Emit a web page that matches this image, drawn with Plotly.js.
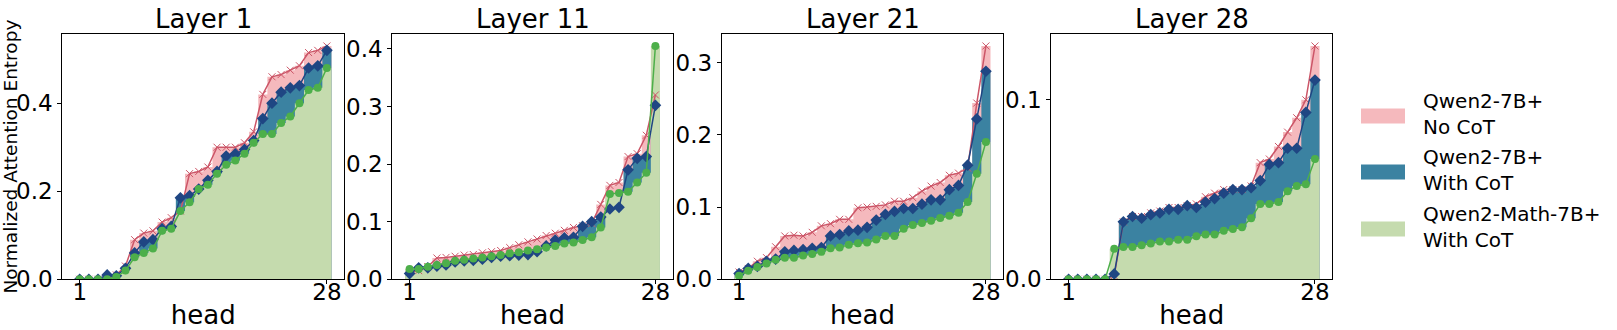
<!DOCTYPE html>
<html>
<head>
<meta charset="utf-8">
<script src="https://cdn.plot.ly/plotly-3.0.1.min.js"></script>
<style>html,body{margin:0;padding:0;background:#fff;}#chart{width:1617px;height:330px;}</style>
</head>
<body>
<div id="chart"></div>
<script>
// ---- data ----
const heads = Array.from({length: 28}, (_, i) => i + 1);
const layerNames = ["Layer 1", "Layer 11", "Layer 21", "Layer 28"];
const seriesNames = ["Qwen2-7B+<br>No CoT", "Qwen2-7B+<br>With CoT", "Qwen2-Math-7B+<br>With CoT"];
const yTitle = "Normalized Attention Entropy";
const xTitle = "head";

// Layer 1
const l1_noCot   = [0,0,0,0,0.01,0.03,0.09,0.105,0.11,0.13,0.14,0.155,0.24,0.245,0.255,0.3,0.3,0.3,0.31,0.335,0.42,0.46,0.465,0.475,0.485,0.515,0.52,0.53];
const l1_withCot = [0,0,0,0.01,0.008,0.025,0.06,0.085,0.09,0.115,0.12,0.185,0.19,0.205,0.225,0.245,0.28,0.285,0.295,0.315,0.365,0.4,0.425,0.435,0.44,0.48,0.485,0.52];
const l1_math    = [0,0,0,0,0.005,0.02,0.05,0.06,0.07,0.11,0.115,0.155,0.175,0.205,0.215,0.24,0.26,0.27,0.285,0.31,0.33,0.33,0.355,0.37,0.4,0.43,0.435,0.48];

// Layer 11
const l11_noCot   = [0.012,0.015,0.022,0.037,0.038,0.04,0.042,0.043,0.046,0.048,0.05,0.055,0.06,0.065,0.07,0.076,0.08,0.085,0.09,0.093,0.097,0.13,0.163,0.168,0.213,0.218,0.25,0.32];
const l11_withCot = [0.01,0.02,0.02,0.023,0.025,0.03,0.032,0.033,0.035,0.038,0.04,0.041,0.042,0.043,0.048,0.058,0.068,0.072,0.073,0.092,0.1,0.108,0.122,0.125,0.19,0.21,0.213,0.302];
const l11_math    = [0.018,0.018,0.022,0.025,0.028,0.032,0.034,0.036,0.038,0.04,0.042,0.045,0.047,0.05,0.052,0.055,0.058,0.062,0.064,0.068,0.073,0.09,0.148,0.15,0.152,0.168,0.185,0.405];

// Layer 21
const l21_noCot   = [0.01,0.015,0.025,0.03,0.045,0.06,0.061,0.06,0.065,0.074,0.077,0.083,0.083,0.099,0.1,0.101,0.103,0.108,0.108,0.113,0.122,0.129,0.134,0.144,0.147,0.154,0.244,0.323];
const l21_withCot = [0.008,0.015,0.018,0.025,0.028,0.038,0.04,0.041,0.043,0.044,0.06,0.062,0.067,0.068,0.072,0.082,0.09,0.094,0.098,0.098,0.104,0.11,0.11,0.124,0.13,0.158,0.222,0.288];
const l21_math    = [0.005,0.012,0.017,0.022,0.027,0.03,0.03,0.033,0.035,0.038,0.043,0.044,0.048,0.05,0.051,0.055,0.06,0.06,0.07,0.075,0.078,0.081,0.085,0.088,0.092,0.107,0.146,0.19];

// Layer 28
const l28_noCot   = [0,0,0,0,0,0.002,0.032,0.035,0.035,0.037,0.038,0.04,0.04,0.041,0.042,0.046,0.048,0.05,0.05,0.05,0.052,0.065,0.067,0.074,0.082,0.09,0.1,0.13];
const l28_withCot = [0,0,0,0,0,0.003,0.032,0.035,0.034,0.036,0.037,0.039,0.039,0.041,0.04,0.043,0.045,0.048,0.05,0.05,0.051,0.055,0.064,0.065,0.073,0.073,0.093,0.111];
const l28_math    = [0,0,0,0,0,0.017,0.018,0.018,0.019,0.02,0.021,0.021,0.022,0.022,0.024,0.025,0.025,0.027,0.028,0.029,0.034,0.042,0.042,0.043,0.049,0.052,0.053,0.067];

const layers = [
  [l1_noCot, l1_withCot, l1_math],
  [l11_noCot, l11_withCot, l11_math],
  [l21_noCot, l21_withCot, l21_math],
  [l28_noCot, l28_withCot, l28_math]
];
const yTickVals = [[0,0.2,0.4],[0,0.1,0.2,0.3,0.4],[0,0.1,0.2,0.3],[0,0.1]];

// ---- style ----
const fillColors = ["#f5b9bd", "#3b82a1", "#c5dbae"];
const lineColors = ["#cc5668", "#1f4683", "#4daf4a"];
const symbols = ["x-thin", "diamond", "circle"];
const markerSizes = [7, 9, 8];
const W = 1617, H = 330;
const panelsPx = [[62.3,344.3],[392.3,672.7],[721.7,1003.3],[1051.3,1332.3]];
const yTop = 34.3, yBot = 279.3;
const FONT = "DejaVu Sans";

const traces = [];
const layout = {
  width: W, height: H,
  margin: {l:0, r:0, t:0, b:0},
  paper_bgcolor: "#fff", plot_bgcolor: "#fff",
  font: {family: FONT, color: "#000"},
  showlegend: false,
  hovermode: false,
  annotations: [],
  shapes: []
};

layers.forEach((series, p) => {
  const ax = p === 0 ? "" : String(p + 1);
  const xa = "x" + ax, ya = "y" + ax;
  const stepX = heads.flatMap(h => [h - 0.5, h + 0.5]);
  series.forEach((vals, s) => {
    traces.push({
      type: "scatter", mode: "lines", xaxis: xa, yaxis: ya,
      x: stepX, y: vals.flatMap(v => [v, v]),
      fill: "tozeroy", fillcolor: fillColors[s],
      line: {width: 0, color: fillColors[s]},
      name: seriesNames[s].replace("<br>", " "), hoverinfo: "skip"
    });
  });
  series.forEach((vals, s) => {
    traces.push({
      type: "scatter", mode: "lines+markers", xaxis: xa, yaxis: ya,
      x: heads, y: vals,
      line: {width: 1.5, color: lineColors[s]},
      marker: {symbol: symbols[s], size: markerSizes[s], color: lineColors[s],
               line: {width: s === 0 ? 1 : 0, color: lineColors[s]}},
      name: seriesNames[s].replace("<br>", " ")
    });
  });
  const ymax = Math.max(...series.flat()) * 1.05;
  const xmin = heads[0] - 0.5, xmaxD = heads[heads.length - 1] + 0.5;
  const pad = (xmaxD - xmin) * 0.05;
  layout["xaxis" + ax] = {
    domain: [panelsPx[p][0]/W, panelsPx[p][1]/W],
    anchor: ya,
    range: [xmin - pad, xmaxD + pad],
    tickvals: [heads[0], heads[heads.length - 1]],
    ticktext: [String(heads[0]), String(heads[heads.length - 1])],
    ticks: "outside", ticklen: 4, tickwidth: 1, tickcolor: "#000",
    ticklabelstandoff: -12,
    tickfont: {family: FONT, size: 23, color: "#000"},
    showline: true, linecolor: "#000", linewidth: 1, mirror: true,
    showgrid: false, zeroline: false, automargin: false,
    title: {text: xTitle, font: {family: FONT, size: 26, color: "#000"}, standoff: 20}
  };
  layout["yaxis" + ax] = {
    domain: [1 - yBot/H, 1 - yTop/H],
    anchor: xa,
    range: [0, ymax],
    tickvals: yTickVals[p],
    tickformat: ".1f",
    ticks: "outside", ticklen: 4, tickwidth: 1, tickcolor: "#000",
    tickfont: {family: FONT, size: 23, color: "#000"},
    showline: true, linecolor: "#000", linewidth: 1, mirror: true,
    showgrid: false, zeroline: false, automargin: false
  };
  layout.annotations.push({
    text: layerNames[p], xref: "paper", yref: "paper",
    x: (panelsPx[p][0] + panelsPx[p][1]) / 2 / W, y: 1 - 19/H,
    xanchor: "center", yanchor: "middle", showarrow: false,
    font: {family: FONT, size: 26, color: "#000"}
  });
});

// y-axis title of the first panel
layout.annotations.push({
  text: yTitle, xref: "paper", yref: "paper",
  x: 10.8/W, y: 1 - ((yTop + yBot) / 2)/H, textangle: -90,
  xanchor: "center", yanchor: "middle", showarrow: false,
  font: {family: FONT, size: 18.5, color: "#000"}
});

// legend (patches + labels)
const legPatchX = [1361, 1405], legTextX = 1421;
const legCenters = [114, 170, 227];
seriesNames.forEach((nm, s) => {
  const c = legCenters[s];
  layout.shapes.push({
    type: "rect", xref: "paper", yref: "paper",
    x0: legPatchX[0]/W, x1: legPatchX[1]/W,
    y0: 1 - (c + 9.5)/H, y1: 1 - (c - 5.5)/H,
    fillcolor: fillColors[s], line: {width: 0}
  });
  layout.annotations.push({
    text: nm, xref: "paper", yref: "paper",
    x: legTextX/W, y: 1 - c/H, xanchor: "left", yanchor: "middle", align: "left",
    showarrow: false, font: {family: FONT, size: 20, color: "#000"}
  });
});

Plotly.newPlot("chart", traces, layout, {staticPlot: true, displayModeBar: false});
</script>
</body>
</html>
